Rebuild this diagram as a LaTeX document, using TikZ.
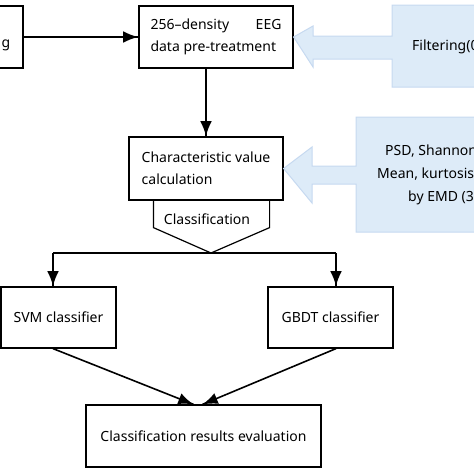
\documentclass[tikz,border=0pt]{standalone}
\usepackage{fontspec}
\setmainfont{Noto Sans}
\usetikzlibrary{calc}
\usetikzlibrary{arrows,decorations.markings}

\definecolor{bluefill}{RGB}{221,235,248}
\definecolor{blueline}{RGB}{198,217,240}

\begin{document}
\begin{tikzpicture}
% define arrow head
[
    x=1pt, y=-1pt,
    decoration={
      markings,
      mark=at position 1 with {\arrow[scale=2,black]{latex}};
    },
    box/.style={draw, line width=1.2pt, inner sep=0pt, font=\fontsize{14}{22}\selectfont},
    link/.style={line width=1.6pt, postaction={decorate}},
    hint/.style={draw=blueline, fill=bluefill, line width=1pt},
    hinttext/.style={anchor=west, inner sep=0pt, font=\fontsize{14}{22}\selectfont}
]
\useasboundingbox (0,0) rectangle (474,474);
\clip (0,0) rectangle (474,474);

% boxes
\node[box, minimum width=80, minimum height=62] (acq) at (-17,37) {};
\node[inner sep=0pt, font=\fontsize{14}{22}\selectfont] (acqtxt) at (6,45) {g};
\node[box, minimum width=154, minimum height=62] (pre) at (216,37)
  {\parbox{131pt}{\hbox to 131pt{256--density\hfill EEG}\hbox{data pre-treatment}}};
\node[box, minimum width=154, minimum height=63] (char) at (206,168.5)
  {\parbox{131pt}{\hbox{Characteristic value}\hbox{calculation}}};
\node[box, minimum width=115, minimum height=61] (svm) at (58.5,317.5) {SVM classifier};
\node[box, minimum width=125, minimum height=61] (gbdt) at (330.5,317.5) {GBDT classifier};
\node[box, minimum width=235, minimum height=62] (eval) at (203.5,436) {Classification results evaluation};

% classification tag
\coordinate (split) at (211,253);
\draw[line width=1.2pt] ($(char.south west)+(25,0)$) -- ++(0,27) -- (split)
  -- ($(char.south east)+(-14,27)$) -- ($(char.south east)+(-14,0)$);
\node[inner sep=0pt, font=\fontsize{14}{22}\selectfont] (cls) at (207,219) {Classification};

% links
\draw[link] (acq.east) -- (pre.west);
\draw[link] (char.north |- pre.south) -- (char.north);
\coordinate (svmin) at ($(svm.north)+(-5.5,0)$);
\coordinate (gbdtin) at ($(gbdt.north)+(5.5,0)$);
\draw[line width=1.6pt] (svmin |- split) -- (gbdtin |- split);
\draw[link] (svmin |- split) -- (svmin);
\draw[link] (gbdtin |- split) -- (gbdtin);
\draw[link] ($(svm.south)+(-5.5,0)$) -- ($(eval.north)+(-10,0)$);
\draw[link] ($(gbdt.south)+(5.5,0)$) -- ($(eval.north)+(-1,0)$);

% hints
\coordinate (tip1) at (pre.east);
\draw[hint] (480,5) -- (392,5) -- (392,36) -- (313,36) -- (313,26) -- (tip1)
  -- (313,67) -- (313,59) -- (392,59) -- (392,87) -- (480,87);
\node[hinttext] (filt) at (412,47) {Filtering(0};
\coordinate (tip2) at (char.east);
\draw[hint] (480,117) -- (356,117) -- (356,166) -- (312,166) -- (312,147) -- (tip2)
  -- (312,203) -- (312,184) -- (356,184) -- (356,232) -- (480,232);
\node[hinttext] (feat1) at (385,151) {PSD, Shannon};
\node[hinttext] (feat2) at (377,174) {Mean, kurtosis};
\node[hinttext] (feat3) at (408,198) {by EMD (3};
\end{tikzpicture}
\end{document}
